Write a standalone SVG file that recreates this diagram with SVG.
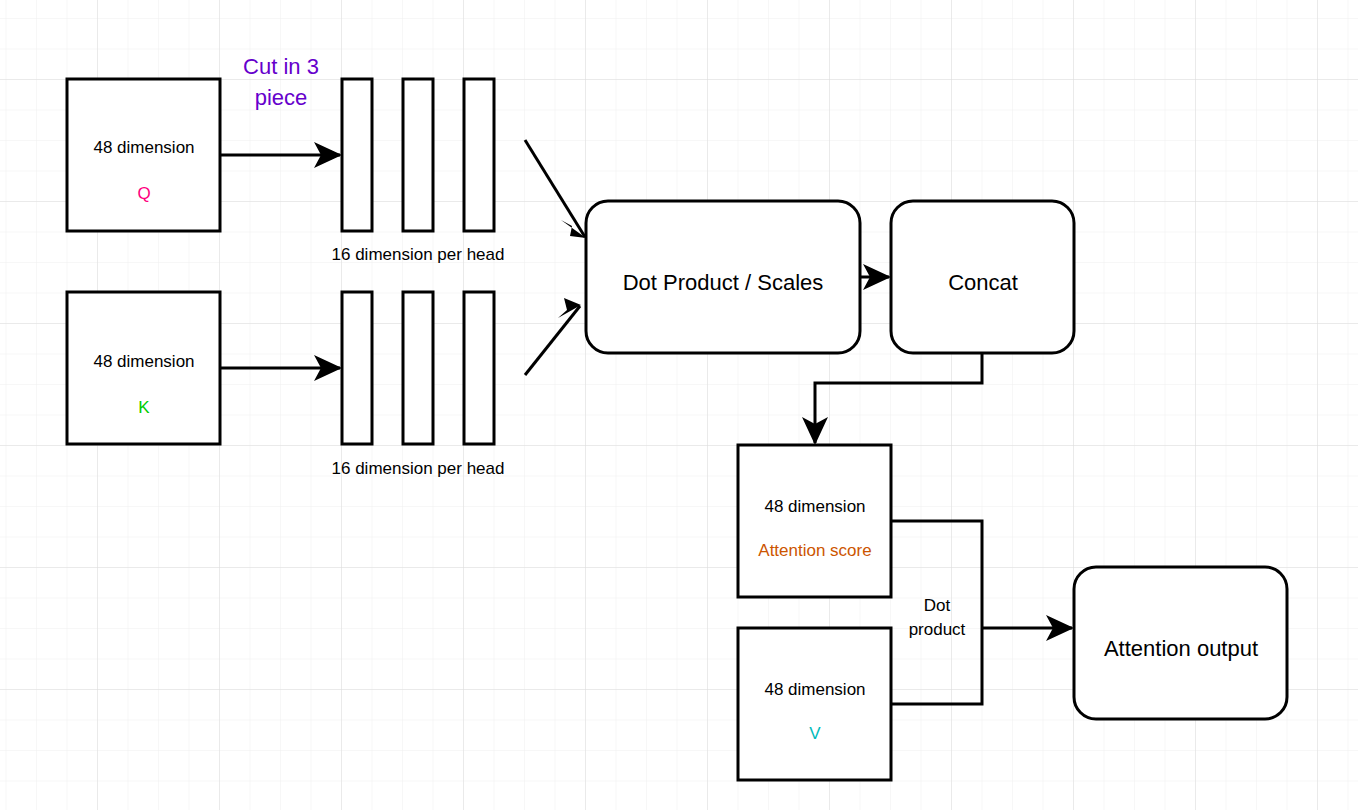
<svg xmlns="http://www.w3.org/2000/svg" width="1358" height="810" viewBox="0 0 1358 810">
<defs>
<pattern id="minor" x="6.5" y="-11.5" width="30.5" height="30.5" patternUnits="userSpaceOnUse"><path d="M30.5 0V30.5M0 30.5H30.5" fill="none" stroke="#efefef" stroke-width="1"/></pattern>
<pattern id="major" x="-24" y="-42" width="122" height="122" patternUnits="userSpaceOnUse"><path d="M122 0V122M0 122H122" fill="none" stroke="#dcdcdc" stroke-width="1"/></pattern>
<marker id="ah" viewBox="0 0 10 10" refX="10" refY="5" markerWidth="10" markerHeight="10" markerUnits="userSpaceOnUse" orient="auto"><path d="M0 0L10 5L0 10L2.5 5Z" fill="#000"/></marker>
</defs>
<style>
.b{fill:#fff;stroke:#000;stroke-width:3}
.c{fill:none;stroke:#000;stroke-width:3}
text{font-family:"Liberation Sans",Arial,sans-serif;text-anchor:middle}
.s{font-size:17px}
.l{font-size:22px}
</style>
<rect width="1358" height="810" fill="#fff"/>
<rect width="1358" height="810" fill="url(#minor)"/>
<rect width="1358" height="810" fill="url(#major)"/>
<g id="connectors">
<path class="c" d="M220 155H340" marker-end="url(#ah)" style="--a:1"/>
<path class="c" d="M220 368H340"/>
<path class="c" d="M525 140L585 237"/>
<path class="c" d="M525 375L580 306"/>
<path class="c" d="M860 277H889"/>
<path class="c" d="M982 353V383H815V443"/>
<path class="c" d="M891 521H982V704H891"/>
<path class="c" d="M982 628H1072"/>
</g>
<g id="arrowheads" fill="#000">
<path d="M342 155L314 142L321 155L314 168Z"/>
<path d="M342 368L314 355L321 368L314 381Z"/>
<path d="M586 238L561 220L572 226L570 236Z" transform="rotate(0)"/>
<path d="M581 305L558 318L567 310L564 298Z"/>
<path d="M891 277L863 264L870 277L863 290Z"/>
<path d="M815 445L802 417L815 424L828 417Z"/>
<path d="M1074 628L1046 615L1053 628L1046 641Z"/>
</g>
<g id="q"><rect class="b" x="67" y="79" width="153" height="152"/><text class="s" x="144" y="153">48 dimension</text><text class="s" x="144" y="199" fill="#ff0080">Q</text></g>
<g id="cut"><text x="281" y="74" font-size="22" fill="#6600cc">Cut in 3</text><text x="281" y="105" font-size="22" fill="#6600cc">piece</text></g>
<g id="k"><rect class="b" x="67" y="292" width="153" height="152"/><text class="s" x="144" y="367">48 dimension</text><text class="s" x="144" y="413" fill="#00cc00">K</text></g>
<g id="qheads"><rect class="b" x="342" y="79" width="30" height="152"/><rect class="b" x="403" y="79" width="30" height="152"/><rect class="b" x="464" y="79" width="30" height="152"/><text class="s" x="418" y="260">16 dimension per head</text></g>
<g id="kheads"><rect class="b" x="342" y="292" width="30" height="152"/><rect class="b" x="403" y="292" width="30" height="152"/><rect class="b" x="464" y="292" width="30" height="152"/><text class="s" x="418" y="474">16 dimension per head</text></g>
<g id="dot"><rect class="b" x="586" y="201" width="274" height="152" rx="22"/><text class="l" x="723" y="290">Dot Product / Scales</text></g>
<g id="concat"><rect class="b" x="891" y="201" width="183" height="152" rx="22"/><text class="l" x="983" y="290">Concat</text></g>
<g id="score"><rect class="b" x="738" y="445" width="153" height="152"/><text class="s" x="815" y="512">48 dimension</text><text class="s" x="815" y="556" fill="#cc5500">Attention score</text></g>
<g id="v"><rect class="b" x="738" y="628" width="153" height="152"/><text class="s" x="815" y="695">48 dimension</text><text class="s" x="815" y="739" fill="#00bbbb">V</text></g>
<g id="dotlabel"><text class="s" x="937" y="611">Dot</text><text class="s" x="937" y="635">product</text></g>
<g id="out"><rect class="b" x="1074" y="567" width="213" height="152" rx="22"/><text class="l" x="1181" y="656">Attention output</text></g>
</svg>
